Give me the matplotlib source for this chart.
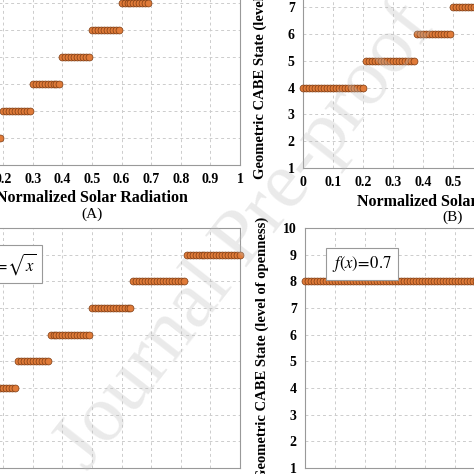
import numpy as np
import matplotlib.pyplot as plt

plt.rcParams['font.family'] = ['Liberation Serif', 'DejaVu Serif']
plt.rcParams['mathtext.fontset'] = 'stix'

# sampled normalized radiation values
radiation = np.round(np.arange(0.0, 1.0001, 0.01), 2)

# step thresholds (radiation where level goes up) and starting level per panel
a_edges = [0.1, 0.2, 0.3, 0.4, 0.5, 0.6, 0.7, 0.8, 0.9]
a_start = 1
b_edges = [0.21, 0.38, 0.5, 0.65, 0.8, 0.95]
b_start = 4
c_edges = [0.02, 0.06, 0.16, 0.25, 0.36, 0.5, 0.64, 0.82]
c_start = 1
d_level = 8

ORANGE = '#e07b39'
EDGE = '#7a3a12'
W, H = 474, 474


def levels(edges, start):
    return start + np.searchsorted(edges, radiation, side='right')


def box(l, b, w, h):
    return [l / W, (H - b) / H, w / W, h / H]


fig = plt.figure(figsize=(4.74, 4.74), dpi=100)

panels = [
    (box(-56, 165, 296, 243), levels(a_edges, a_start), '(A)', False, None, 0.23),
    (box(303, 168, 300, 241), levels(b_edges, b_start), '(B)', True, None, 0.2),
    (box(-56, 468, 296, 240), levels(c_edges, c_start), None, False, r'$f(x)\!=\!\sqrt{x}$', 0.2),
    (box(305, 468, 300, 240), np.full_like(radiation, d_level), None, True, r'$f(x)\!=\!0.7$', 0.19),
]

for pos, y, tag, ylab, note, nx in panels:
    ax = fig.add_axes(pos)
    ax.plot(radiation, y, 'o', ms=5, mfc=ORANGE, mec=EDGE, mew=0.5, zorder=3, clip_on=False)
    ax.set_xlim(0, 1)
    ax.set_ylim(1, 10)
    ax.set_xticks(np.round(np.arange(0, 1.01, 0.1), 1))
    ax.set_xticklabels(['0', '0.1', '0.2', '0.3', '0.4', '0.5', '0.6', '0.7', '0.8', '0.9', '1'])
    ax.set_yticks(range(1, 11))
    ax.grid(True, ls=(0, (3, 3)), color='#cccccc', lw=0.7)
    ax.tick_params(length=0, labelsize=10, pad=6)
    for t in ax.get_xticklabels() + ax.get_yticklabels():
        t.set_fontweight('bold')
    for s in ax.spines.values():
        s.set_color('#999999')
    if tag:
        ax.set_xlabel('Normalized Solar Radiation', fontsize=11.5, fontweight='bold', labelpad=3)
        ax.text(0.5, -0.175, tag, transform=ax.transAxes, ha='center', va='top', fontsize=11)
    if ylab:
        ax.set_ylabel('Geometric CABE State (level of openness)', fontsize=10.5,
                      fontweight='bold', labelpad=10)
    if note:
        ax.text(nx, 0.85, note, transform=ax.transAxes, fontsize=12,
                ha='center', va='center',
                bbox=dict(boxstyle='square,pad=0.35', fc='white', ec='#999999', lw=0.8))

fig.text(0.52, 0.5, 'Journal Pre-proof', fontsize=58, color='#bbbbbb', alpha=0.3,
         rotation=52, ha='center', va='center')

fig.savefig('out.png', dpi=100)
